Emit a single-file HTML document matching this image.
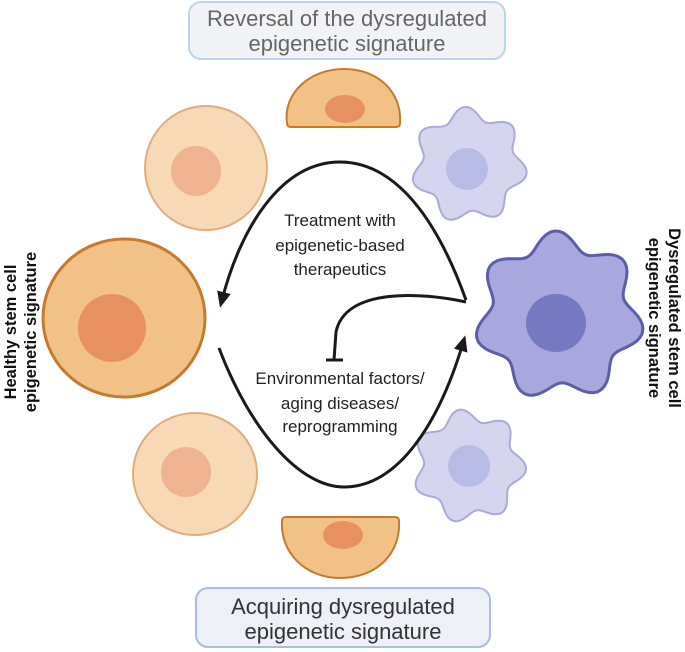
<!DOCTYPE html>
<html><head><meta charset="utf-8"><style>
html,body{margin:0;padding:0;background:#fff;}
svg{display:block;font-family:"Liberation Sans",Arial,sans-serif;}
</style></head><body>
<svg id="s" width="685" height="652" viewBox="0 0 685 652" xmlns="http://www.w3.org/2000/svg">
<defs>
<marker id="ah" markerWidth="16" markerHeight="16" refX="8" refY="8" orient="auto" markerUnits="userSpaceOnUse">
<path d="M0,1 L16,8 L0,15 Z" fill="#1a1a1a"/></marker>
</defs>
<rect x="189" y="2" width="316" height="57" rx="12" fill="#f2f3f7" stroke="#b9d6ee" stroke-width="2"/>
<text x="347" y="26" font-size="22" fill="#666" text-anchor="middle">Reversal of the dysregulated</text>
<text x="347" y="51" font-size="22" fill="#666" text-anchor="middle">epigenetic signature</text>
<rect x="196" y="588" width="294" height="59" rx="12" fill="#eef0f7" stroke="#a9bde2" stroke-width="2"/>
<text x="343" y="614" font-size="22" fill="#333" text-anchor="middle">Acquiring dysregulated</text>
<text x="343" y="639" font-size="22" fill="#333" text-anchor="middle">epigenetic signature</text>
<ellipse cx="206" cy="168" rx="61" ry="62" fill="#f7d9b5" stroke="#e2ad7c" stroke-width="2"/>
<circle cx="196" cy="171" r="25" fill="#efb391"/>
<ellipse cx="195" cy="474" rx="62" ry="61" fill="#f7d9b5" stroke="#e2ad7c" stroke-width="2"/>
<circle cx="186" cy="472" r="25" fill="#efb391"/>
<ellipse cx="124" cy="318" rx="81" ry="79" fill="#f2c185" stroke="#c67a30" stroke-width="3"/>
<circle cx="112" cy="328" r="34" fill="#e6915e"/>
<path d="M287,123 C283,93 310,69 344,69 C378,69 402,92 400,123 Q400,127 396,127 L291,127 Q287,127 287,123 Z" fill="#f2c185" stroke="#c67a30" stroke-width="2"/>
<ellipse cx="345" cy="109" rx="20" ry="14" fill="#e6915e"/>
<path d="M286,517 L395,517 Q399,517 399,521 C401,552 378,578 340,578 C305,578 280,552 282,521 Q282,517 286,517 Z" fill="#f2c185" stroke="#c67a30" stroke-width="2"/>
<ellipse cx="343" cy="535" rx="20" ry="14" fill="#e6915e"/>
<path id="st1" fill="#d5d5ef" stroke="#a9abd9" stroke-width="2"/>
<circle cx="467" cy="169" r="21" fill="#b8bce4"/>
<path id="st2" fill="#d5d5ef" stroke="#a9abd9" stroke-width="2"/>
<circle cx="469" cy="466" r="21" fill="#b8bce4"/>
<path id="st3" fill="#a8a8de" stroke="#5a5fa8" stroke-width="3"/>
<ellipse cx="556" cy="323" rx="30" ry="29" fill="#7479c2"/>
<path d="M466,300 C430,200 385,162 340,162 C280,162 240,230 222,300" fill="none" stroke="#1a1a1a" stroke-width="3" marker-end="url(#ah)"/>
<path d="M219,348 C250,430 300,488 345,487 C400,486 440,420 463,343" fill="none" stroke="#1a1a1a" stroke-width="3" marker-end="url(#ah)"/>
<path d="M466,302 C420,292 345,288 336,332 L334,360" fill="none" stroke="#1a1a1a" stroke-width="3"/>
<line x1="326" y1="360" x2="343" y2="360" stroke="#1a1a1a" stroke-width="3"/>
<g font-size="17" fill="#222" text-anchor="middle">
<text x="340" y="226">Treatment with</text>
<text x="340" y="251">epigenetic-based</text>
<text x="340" y="275">therapeutics</text>
<text x="340" y="384">Environmental factors/</text>
<text x="340" y="409">aging diseases/</text>
<text x="340" y="432">reprogramming</text>
</g>
<g font-size="16.5" font-weight="bold" fill="#111" text-anchor="middle">
<text transform="translate(16,332) rotate(-90)">Healthy stem cell</text>
<text transform="translate(36,332) rotate(-90)">epigenetic signature</text>
<text transform="translate(669,318) rotate(90)">Dysregulated stem cell</text>
<text transform="translate(649,318) rotate(90)">epigenetic signature</text>
</g>
</svg>
<script>
function star(id,cx,cy,R,a,n,ph){var d="";for(var i=0;i<=360;i+=3){var t=i*Math.PI/180;var r=R*(1+a*Math.sin(n*t+ph));d+=(i?"L":"M")+(cx+r*Math.cos(t)).toFixed(1)+","+(cy+r*Math.sin(t)).toFixed(1);}document.getElementById(id).setAttribute("d",d+"Z");}
star("st1",469,165,52,0.12,7,0.5);
star("st2",469,466,51,0.12,7,1.2);
star("st3",559,316,76,0.12,7,0.3);
</script>
</body></html>
